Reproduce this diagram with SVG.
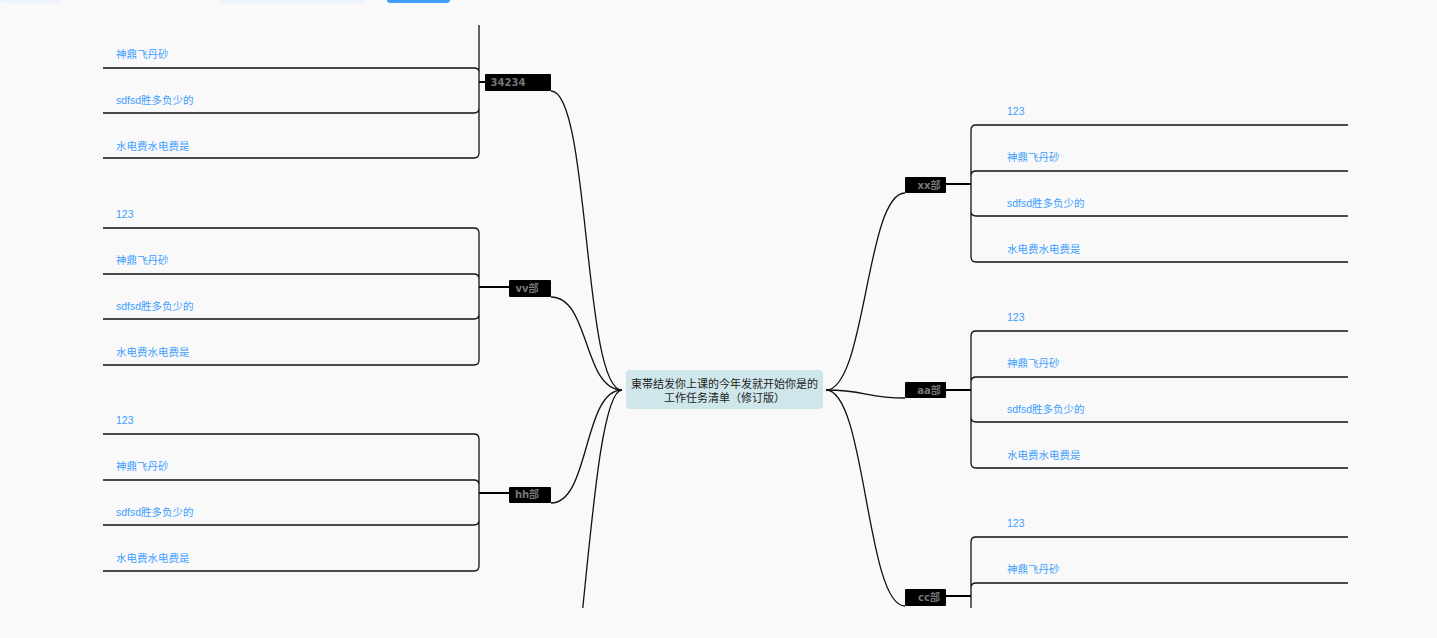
<svg xmlns="http://www.w3.org/2000/svg" width="1437" height="638" viewBox="0 0 1437 638">
<style>
.c{fill:none;stroke:#111;stroke-width:1.3}
.j{fill:none;stroke:#000;stroke-width:2}
.n{fill:#000}
.nt{fill:#777;font:bold 10px "DejaVu Sans","Noto Sans CJK SC",sans-serif;text-anchor:middle}
.l{fill:#409eff;font:10.5px "Liberation Sans","Noto Sans CJK SC",sans-serif}
.ct{fill:#222;font:11px "Liberation Sans","Noto Sans CJK SC",sans-serif;text-anchor:middle}
</style>
<defs><clipPath id="cp"><rect x="0" y="25" width="1437" height="583"/></clipPath></defs>
<rect width="1437" height="638" fill="#f9f9f9"/>
<rect x="0" y="-4" width="60" height="7" rx="3" fill="#eef4fb"/>
<rect x="220" y="-4" width="145" height="7" rx="3" fill="#eef4fb"/>
<rect x="387" y="-4" width="63" height="7" rx="3" fill="#409eff"/>
<g clip-path="url(#cp)">
<g id="connectors">
<path class="c" d="M622,390 C583,390 590,91 551,91"/>
<path class="c" d="M622,390 C583,390 590,297 551,297"/>
<path class="c" d="M622,390 C583,390 590,503 551,503"/>
<path class="c" d="M622,390 C590,390 583,730 560,730"/>
<path class="c" d="M826,390 C866,390 866,193 905,193"/>
<path class="c" d="M826,390 C866,390 866,398 905,398"/>
<path class="c" d="M826,390 C866,390 866,606 905,606"/>
<path class="j" d="M479,82 H485 M479,287 H509 M479,493 H509 M946,184 H971 M946,390 H971 M946,596 H971"/>
<path class="c" d="M479,0 V153 Q479,158 474,158 H103 M479,72 Q479,68 474,68 H103 M479,108 Q479,113 474,113 H103"/>
<path class="c" d="M479,233 Q479,228 474,228 H103 M479,279 Q479,274 474,274 H103 M479,314 Q479,319 474,319 H103 M479,233 V360 Q479,365 474,365 H103"/>
<path class="c" d="M479,439 Q479,434 474,434 H103 M479,485 Q479,480 474,480 H103 M479,520 Q479,525 474,525 H103 M479,439 V566 Q479,571 474,571 H103"/>
<path class="c" d="M971,130 Q971,125 976,125 H1348 M971,176 Q971,171 976,171 H1348 M971,211 Q971,216 976,216 H1348 M971,130 V257 Q971,262 976,262 H1348"/>
<path class="c" d="M971,336 Q971,331 976,331 H1348 M971,382 Q971,377 976,377 H1348 M971,417 Q971,422 976,422 H1348 M971,336 V463 Q971,468 976,468 H1348"/>
<path class="c" d="M971,542 Q971,537 976,537 H1348 M971,588 Q971,583 976,583 H1348 M971,542 V640"/>
</g>
<g id="center"><rect x="626" y="370" width="197" height="39" rx="4" fill="#cfe6ea"/>
<text class="ct" x="724.5" y="388">東帯结发你上课的今年发就开始你是的</text>
<text class="ct" x="724.5" y="402">工作任务清单（修订版）</text></g>
<g id="n34234"><rect class="n" x="485" y="74" width="66" height="17" rx="1"/><text class="nt" x="508" y="86">34234</text>
<text class="l" x="116" y="58">神鼎飞丹砂</text><text class="l" x="116" y="104">sdfsd胜多负少的</text><text class="l" x="116" y="150">水电费水电费是</text></g>
<g id="vv"><rect class="n" x="509" y="280" width="42" height="17" rx="1"/><text class="nt" x="527" y="292">vv部</text>
<text class="l" x="116" y="218">123</text><text class="l" x="116" y="264">神鼎飞丹砂</text><text class="l" x="116" y="310">sdfsd胜多负少的</text><text class="l" x="116" y="356">水电费水电费是</text></g>
<g id="hh"><rect class="n" x="509" y="487" width="42" height="16" rx="1"/><text class="nt" x="527" y="498">hh部</text>
<text class="l" x="116" y="424">123</text><text class="l" x="116" y="470">神鼎飞丹砂</text><text class="l" x="116" y="516">sdfsd胜多负少的</text><text class="l" x="116" y="562">水电费水电费是</text></g>
<g id="xx"><rect class="n" x="905" y="177" width="41" height="16" rx="1"/><text class="nt" x="929" y="189">xx部</text>
<text class="l" x="1007" y="115">123</text><text class="l" x="1007" y="161">神鼎飞丹砂</text><text class="l" x="1007" y="207">sdfsd胜多负少的</text><text class="l" x="1007" y="253">水电费水电费是</text></g>
<g id="aa"><rect class="n" x="905" y="382" width="41" height="16" rx="1"/><text class="nt" x="929" y="394">aa部</text>
<text class="l" x="1007" y="321">123</text><text class="l" x="1007" y="367">神鼎飞丹砂</text><text class="l" x="1007" y="413">sdfsd胜多负少的</text><text class="l" x="1007" y="459">水电费水电费是</text></g>
<g id="cc"><rect class="n" x="905" y="589" width="41" height="17" rx="1"/><text class="nt" x="929" y="601">cc部</text>
<text class="l" x="1007" y="527">123</text><text class="l" x="1007" y="573">神鼎飞丹砂</text></g>
</g>
</svg>
